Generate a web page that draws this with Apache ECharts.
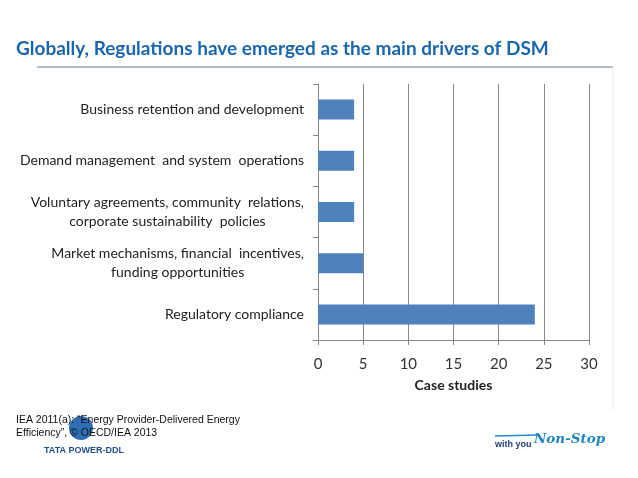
<!DOCTYPE html>
<html>
<head>
<meta charset="utf-8">
<script src="https://cdn.jsdelivr.net/npm/echarts@6/dist/echarts.min.js"></script>
<style>html,body{margin:0;padding:0;background:#fff}#c{width:638px;height:478px}</style>
</head>
<body>
<div id="c"></div>
<script>
var categories = [
  'Business retention and development',
  'Demand management  and system  operations',
  'Voluntary agreements, community  relations,\ncorporate sustainability  policies',
  'Market mechanisms, financial  incentives,\nfunding opportunities',
  'Regulatory compliance'
];
var caseStudies = [4, 4, 4, 5, 24];
var xTicks = { min: 0, max: 30, interval: 5 };

var chart = echarts.init(document.getElementById('c'));
chart.setOption({
  backgroundColor: '#fff',
  animation: false,
  title: {
    text: 'Globally, Regulations have emerged as the main drivers of DSM',
    left: 11, top: 34,
    textStyle: { fontFamily: 'Lato', fontWeight: 'bold', fontSize: 19, color: '#1a66ae' }
  },
  grid: { left: 318, right: 49, top: 84, bottom: 138 },
  xAxis: {
    type: 'value', min: xTicks.min, max: xTicks.max, interval: xTicks.interval,
    name: 'Case studies', nameLocation: 'middle', nameGap: 38,
    nameTextStyle: { fontFamily: 'Lato', fontWeight: 'bold', fontSize: 14, color: '#222' },
    axisLine: { show: true, lineStyle: { color: '#868686', width: 1 } },
    axisTick: { show: true, length: 5, lineStyle: { color: '#868686' } },
    axisLabel: { fontFamily: 'Lato', fontSize: 15, color: '#333', margin: 17 },
    splitLine: { show: true, lineStyle: { color: '#868686', width: 1 } }
  },
  yAxis: {
    type: 'category', data: categories, inverse: true,
    axisLine: { show: true, lineStyle: { color: '#868686', width: 1 } },
    axisTick: { show: true, length: 5, lineStyle: { color: '#868686' } },
    axisLabel: {
      margin: 14, align: 'right',
      formatter: function (v) {
        return v.split('\n').map(function (s) { return '{c|' + s + '}'; }).join('\n');
      },
      rich: { c: { fontFamily: 'Lato', fontSize: 14, color: '#222', align: 'center', lineHeight: 19 } }
    }
  },
  series: [{
    type: 'bar', data: caseStudies, barWidth: 20,
    itemStyle: { color: '#4f81bd' }
  }],
  graphic: [
    { type: 'line', shape: { x1: 37, y1: 67, x2: 613, y2: 67 }, style: { stroke: '#9aa4b6', lineWidth: 1.5 } },
    { type: 'line', shape: { x1: 613, y1: 68, x2: 613, y2: 410 }, style: { stroke: '#ececec', lineWidth: 1 } },
    { type: 'circle', shape: { cx: 81, cy: 428, r: 12 }, style: { fill: '#2f6db5' } },
    { type: 'text', left: 16, top: 414, style: { text: 'IEA 2011(a): \u201cEnergy Provider-Delivered Energy\nEfficiency\u201d, \u00a9 OECD/IEA 2013', font: '10.5px "Liberation Sans", Arial', fill: '#111', lineHeight: 13 } },
    { type: 'text', left: 44, top: 446, style: { text: 'TATA POWER-DDL', font: 'bold 9px "Liberation Sans", Arial', fill: '#1f4f8f' } },
    { type: 'line', shape: { x1: 495, y1: 436, x2: 538, y2: 435 }, style: { stroke: '#2a8bc4', lineWidth: 1.5 } },
    { type: 'text', left: 495, top: 440, style: { text: 'with you', font: 'bold 9px "Liberation Sans", Arial', fill: '#1f3f7a' } },
    { type: 'text', left: 534, top: 432, style: { text: 'Non-Stop', font: 'italic bold 13.5px "DejaVu Serif", serif', fill: '#1d86c4' } }
  ]
});
</script>
</body>
</html>
